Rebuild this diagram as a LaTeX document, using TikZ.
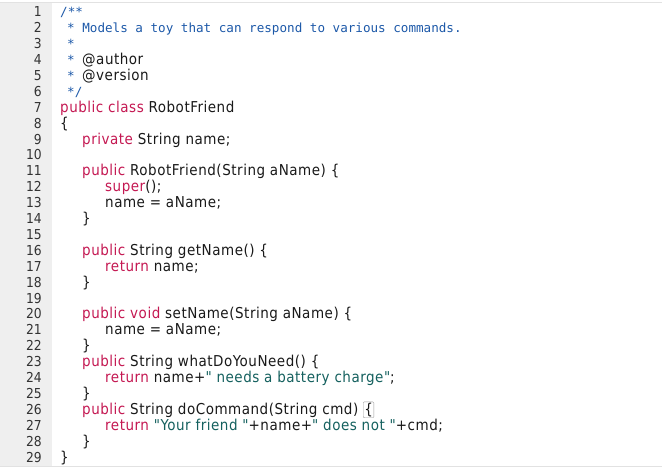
\documentclass[tikz,border=0pt]{standalone}
\usepackage{fontspec}
\usetikzlibrary{positioning}
\newfontfamily\codefam[LetterSpace=3.5]{DejaVu Sans Condensed}
\newfontfamily\numfam{DejaVu Sans Condensed}
\newfontfamily\cmtfam{DejaVu Sans Mono}
\definecolor{kwcol}{RGB}{196,24,82}
\definecolor{cmtcol}{RGB}{28,88,168}
\definecolor{strcol}{RGB}{20,96,94}
\definecolor{gutcol}{RGB}{239,239,239}
\definecolor{rulecol}{RGB}{226,226,226}
\newcommand{\kwd}[1]{\textcolor{kwcol}{#1}}
\newcommand{\strl}[1]{\textcolor{strcol}{#1}}
\newcommand{\cmnt}[1]{{\cmtfam\fontsize{12.6}{16}\selectfont\color{cmtcol}#1}}
\begin{document}
\begin{tikzpicture}[x=1pt,y=-1pt,
	code/.style={anchor=base west,inner sep=0pt,text=black!90,font=\codefam\fontsize{15}{16}\selectfont},
	lnum/.style={anchor=base east,inner sep=0pt,text=black!80,font=\numfam\fontsize{13.7}{16}\selectfont},
	brbox/.style={code,draw=black!40,rounded corners=1pt,inner xsep=1pt,inner ysep=1pt}]
	\useasboundingbox (0,0) rectangle (662,469);
	%gutter and frame
	\fill[gutcol] (0,2) rectangle (52,466);
	\draw[rulecol] (0,2) -- (662,2);
	\draw[rulecol] (0,466) -- (662,466);
	
	%line numbers
	\foreach \n in {1,...,29}{
		\node[lnum] (n\n) at (42, 16.8+15.9*\n-15.9){\n};
	}
	
	%comment block
	\node[code] (c1) at (60, 16.8){\cmnt{/**}};
	\node[code] (c2) at (67, 32.7){\cmnt{* Models a toy that can respond to various commands.}};
	\node[code] (c3) at (67, 48.6){\cmnt{*}};
	\node[code] (c4) at (67, 64.5){\cmnt{*}};
	\node[code] (c4t) at (82, 64.5){@author};
	\node[code] (c5) at (67, 80.4){\cmnt{*}};
	\node[code] (c5t) at (82, 80.4){@version};
	\node[code] (c6) at (67, 96.3){\cmnt{*/}};
	
	%class body
	\node[code] (l7) at (60, 112.2){\kwd{public class} RobotFriend};
	\node[code] (l8) at (60, 128.1){\{};
	\node[code] (l9) at (82, 144){\kwd{private} String name;};
	\node[code] (l11) at (82, 175.8){\kwd{public} RobotFriend(String aName) \{};
	\node[code] (l12) at (105, 191.7){\kwd{super}();};
	\node[code] (l13) at (105, 207.6){name = aName;};
	\node[code] (l14) at (82, 223.5){\}};
	\node[code] (l16) at (82, 255.3){\kwd{public} String getName() \{};
	\node[code] (l17) at (105, 271.2){\kwd{return} name;};
	\node[code] (l18) at (82, 287.1){\}};
	\node[code] (l20) at (82, 318.9){\kwd{public void} setName(String aName) \{};
	\node[code] (l21) at (105, 334.8){name = aName;};
	\node[code] (l22) at (82, 350.7){\}};
	\node[code] (l23) at (82, 366.6){\kwd{public} String whatDoYouNeed() \{};
	\node[code] (l24) at (105, 382.5){\kwd{return} name+\strl{" needs a battery charge"};};
	\node[code] (l25) at (82, 398.4){\}};
	\node[code] (l26) at (82, 414.3){\kwd{public} String doCommand(String cmd)};
	\node[brbox] (br26) at ([xshift=4.5pt]l26.base east){\{};
	\node[code] (l27) at (105, 430.2){\kwd{return} \strl{"Your friend "}+name+\strl{" does not "}+cmd;};
	\node[code] (l28) at (82, 446.1){\}};
	\node[code] (l29) at (60, 462){\}};
\end{tikzpicture}
\end{document}
